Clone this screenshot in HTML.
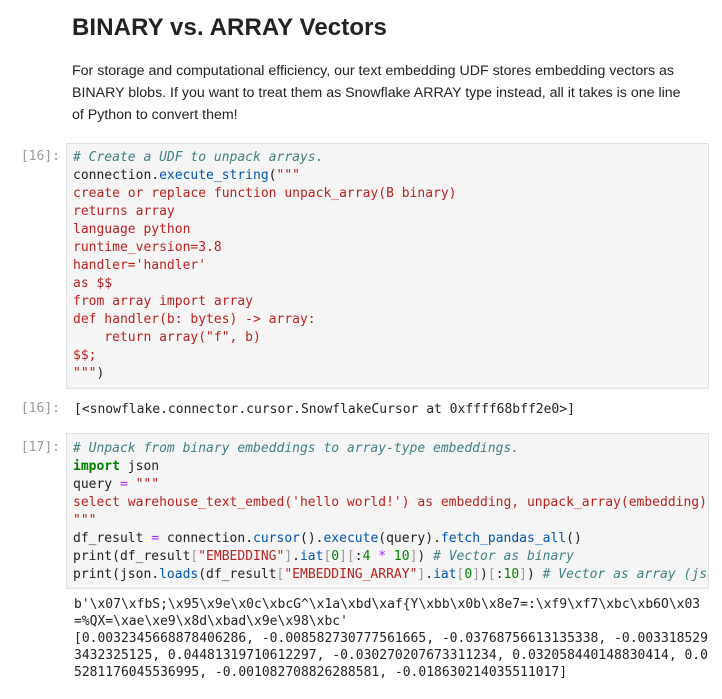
<!DOCTYPE html>
<html><head><meta charset="utf-8"><style>
body{margin:0;width:722px;height:699px;background:#fff;overflow:hidden;position:relative;font-family:"Liberation Sans",sans-serif;color:#222}
h1{position:absolute;left:72px;top:14px;margin:0;font-size:24px;font-weight:bold;color:#222;letter-spacing:0.1px}
.p{position:absolute;left:72px;top:60px;width:620px;font-size:14.2px;line-height:22px;color:#222}
.prompt{position:absolute;left:0;width:60px;text-align:right;font-family:"DejaVu Sans Mono",monospace;font-size:13px;color:#999}
.cell{position:absolute;left:66px;width:641px;background:#f5f5f5;border:1px solid #e0e0e0;overflow:hidden}
pre{margin:0;font-family:"DejaVu Sans Mono","Liberation Mono",monospace;font-size:13px;line-height:18px;white-space:pre;color:#222}
.c{color:#408080;font-style:italic}.s{color:#ba2121}.f{color:#0055aa}.k{color:#008000;font-weight:bold}.o{color:#aa22ff}.n{color:#008000}.g{color:#999}
.out{position:absolute;left:74px;width:635px;overflow:hidden}
</style></head><body>
<h1>BINARY vs. ARRAY Vectors</h1>
<div class="p">For storage and computational efficiency, our text embedding UDF stores embedding vectors as BINARY blobs. If you want to treat them as Snowflake ARRAY type instead, all it takes is one line of Python to convert them!</div>

<div class="prompt" style="top:149px">[16]:</div>
<div class="cell" style="top:143px;height:244px"><pre style="padding:5px 0 0 6px"><span class="c"># Create a UDF to unpack arrays.</span>
connection.<span class="f">execute_string</span>(<span class="s">"""
create or replace function unpack_array(B binary)
returns array
language python
runtime_version=3.8
handler='handler'
as $$
from array import array
def handler(b: bytes) -&gt; array:
    return array("f", b)
$$;
"""</span>)</pre></div>

<div class="prompt" style="top:401px">[16]:</div>
<div class="out" style="top:401px"><pre>[&lt;snowflake.connector.cursor.SnowflakeCursor at 0xffff68bff2e0&gt;]</pre></div>

<div class="prompt" style="top:440px">[17]:</div>
<div class="cell" style="top:433px;height:154px"><pre style="padding:6px 0 0 6px"><span class="c"># Unpack from binary embeddings to array-type embeddings.</span>
<span class="k">import</span> json
query <span class="o">=</span> <span class="s">"""
select warehouse_text_embed('hello world!') as embedding, unpack_array(embedding) as embedding_array
"""</span>
df_result <span class="o">=</span> connection.<span class="f">cursor</span>().<span class="f">execute</span>(query).<span class="f">fetch_pandas_all</span>()
print(df_result<span class="g">[</span><span class="s">"EMBEDDING"</span><span class="g">]</span>.<span class="f">iat</span><span class="g">[</span><span class="n">0</span><span class="g">][</span>:<span class="n">4</span> <span class="o">*</span> <span class="n">10</span><span class="g">]</span>) <span class="c"># Vector as binary</span>
print(json.<span class="f">loads</span>(df_result<span class="g">[</span><span class="s">"EMBEDDING_ARRAY"</span><span class="g">]</span>.<span class="f">iat</span><span class="g">[</span><span class="n">0</span><span class="g">]</span>)<span class="g">[</span>:<span class="n">10</span><span class="g">]</span>) <span class="c"># Vector as array (json)</span></pre></div>

<div class="out" style="top:596px"><pre style="line-height:17px">b'\x07\xfbS;\x95\x9e\x0c\xbcG^\x1a\xbd\xaf{Y\xbb\x0b\x8e7=:\xf9\xf7\xbc\xb6O\x03
=%QX=\xae\xe9\x8d\xbad\x9e\x98\xbc'
[0.0032345668878406286, -0.008582730777561665, -0.03768756613135338, -0.003318529
3432325125, 0.04481319710612297, -0.030270207673311234, 0.032058440148830414, 0.0
5281176045536995, -0.001082708826288581, -0.018630214035511017]</pre></div>
</body></html>
